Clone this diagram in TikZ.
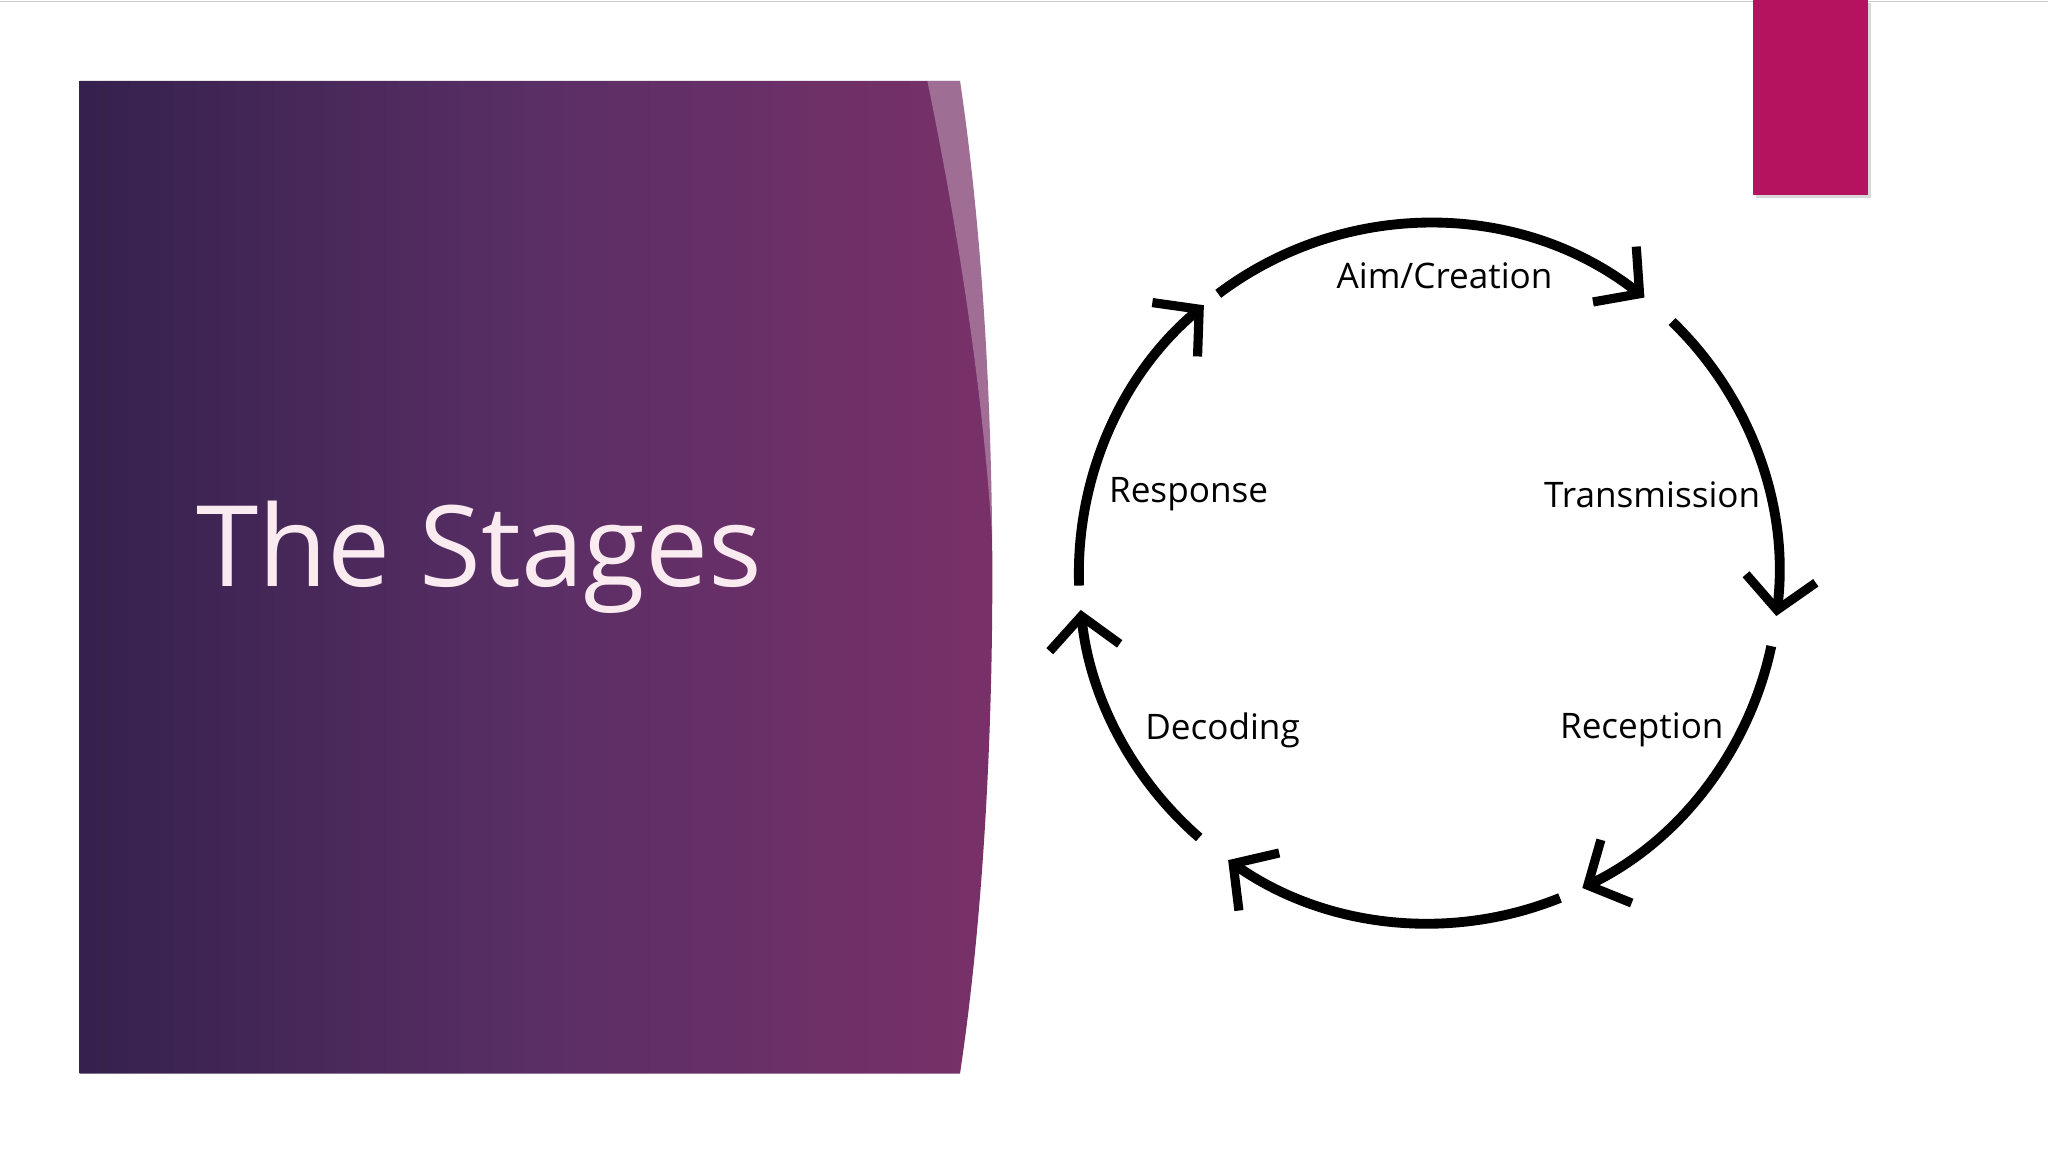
\documentclass[tikz,border=0pt]{standalone}
\usepackage{fontspec}
\setmainfont{Open Sans}
\usetikzlibrary{arrows.meta,shadows}
\definecolor{pdark}{HTML}{35214D}
\definecolor{pmid}{HTML}{5A2F66}
\definecolor{plight}{HTML}{7A3068}
\definecolor{mag}{HTML}{B5135F}
\tikzset{
  cyc/.style={line width=2.8pt,-{Straight Barb[length=9pt,width=20pt,line width=2.6pt]}},
  lab/.style={font=\fontsize{10}{12}\selectfont,text=black}
}
\begin{document}
\begin{tikzpicture}[x=0.013061cm,y=0.013061cm]
\useasboundingbox (0,0) rectangle (1568,882);
\fill[white] (0,0) rectangle (1568,882);
\draw[gray!40] (0,881) -- (1568,881);
% purple panel
\shade[left color=pdark,right color=plight,middle color=pmid]
  (61,820) -- (735,820) .. controls (768,600) and (768,280) .. (735,60) -- (61,60) -- cycle;
\fill[white,opacity=0.3] (710,820) .. controls (745,650) and (758,520) .. (761,440)
  .. controls (760,600) and (752,720) .. (735,820) -- cycle;
\node[font=\fontsize{32}{38}\selectfont,text=white!92!purple] (title) at (367,455) {The Stages};
% magenta block
\fill[mag,drop shadow={opacity=0.3,shadow xshift=1pt,shadow yshift=-1pt}] (1342,733) rectangle (1430,882);
% cycle
\coordinate (c) at (1094,443);
\draw[cyc] ([shift={(127:268)}]c) arc[start angle=127,end angle=52,radius=268];
\draw[cyc] ([shift={(46:268)}]c) arc[start angle=46,end angle=-7,radius=268];
\draw[cyc] ([shift={(-12:268)}]c) arc[start angle=-12,end angle=-64,radius=268];
\draw[cyc] ([shift={(-68:268)}]c) arc[start angle=-68,end angle=-125,radius=268];
\draw[cyc] ([shift={(-131:268)}]c) arc[start angle=-131,end angle=-174,radius=268];
\draw[cyc] ([shift={(-178:268)}]c) arc[start angle=182,end angle=130,radius=268];
\node[lab] (aim) at (1106,671) {Aim/Creation};
\node[lab] (tra) at (1265,503) {Transmission};
\node[lab] (rec) at (1257,323) {Reception};
\node[lab] (dec) at (936,323) {Decoding};
\node[lab] (res) at (910,504) {Response};
\end{tikzpicture}
\end{document}
